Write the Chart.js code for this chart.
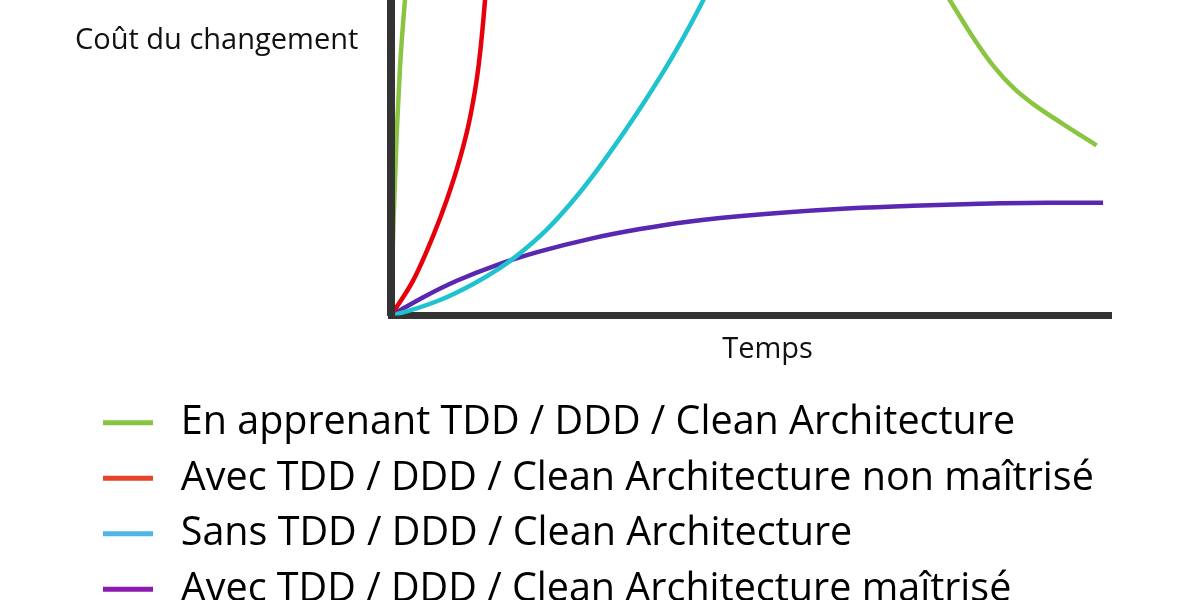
<!DOCTYPE html>
<html>
<head>
<meta charset="utf-8">
<script src="https://cdn.jsdelivr.net/npm/chart.js@4.4.1/dist/chart.umd.min.js"></script>
<style>
    html, body { margin: 0; padding: 0; background: #fff; overflow: hidden; }
    canvas { display: block; }
</style>
</head>
<body>
<canvas id="chart" width="1200" height="620"></canvas>
<script>
// axis titles and legend entries
const yTitle = "Coût du changement";
const xTitle = "Temps";
const seriesLabels = [
    "En apprenant TDD / DDD / Clean Architecture",
    "Avec TDD / DDD / Clean Architecture non maîtrisé",
    "Sans TDD / DDD / Clean Architecture",
    "Avec TDD / DDD / Clean Architecture maîtrisé",
];
const curveColors = ["#89c540", "#e6000b", "#1fc3cf", "#5a27b0"];
const legendColors = ["#86c442", "#e8432b", "#4fb4e6", "#8b1ab0"];

// curves (time 0..100, cost 0..100, the top is cut off)
const learningX = [0, 0.35, 0.79, 1.25, 1.94, 3, 10, 40, 65, 72, 77.6, 80.8, 83.8, 86.6, 89.2, 93.4, 98.0];
const learningY = [0, 30, 57.6, 78.7, 100, 125, 170, 215, 150, 121, 100, 88.3, 78.7, 71.8, 67.0, 60.6, 53.9];

const notMasteredX = [0, 3.10, 5.88, 7.74, 9.58, 10.97, 12.13, 13.06, 13.8];
const notMasteredY = [0, 11.2, 25.4, 36.6, 49.8, 62.6, 78.5, 100, 125];

const withoutX = [0, 2.64, 6.81, 11.43, 14.68, 17.46, 21.63, 25.79, 29.72, 35.04, 39.21, 43.38, 47.5];
const withoutY = [0, 1.6, 4.9, 10.0, 14.4, 18.9, 27.2, 37.8, 49.5, 67.2, 82.5, 100, 120];

const masteredX = [0, 4.49, 9.13, 14.68, 20.69, 27.64, 34.58, 41.53, 45.7, 53.75, 63.3, 72.5, 81.8, 91.1, 98.9];
const masteredY = [0, 5.8, 11.0, 16.0, 20.3, 24.3, 27.4, 29.8, 30.9, 32.5, 33.9, 34.8, 35.4, 35.7, 35.7];

const seriesX = [learningX, notMasteredX, withoutX, masteredX];
const seriesY = [learningY, notMasteredY, withoutY, masteredY];

// layout numbers
const padLeft = 87;
const legendPadding = 16;
const legendFont = 39.5;
const legendLine = 50;
const legendBox = 58; // wider box, the end stays transparent to push the text right

function toPoints(xs, ys) {
    return xs.map((x, i) => ({ x: x, y: ys[i] }));
}

// draws the two free-standing axis captions
const axisCaptions = {
    id: "axisCaptions",
    afterDraw(chart) {
        const ctx = chart.ctx;
        const area = chart.chartArea;
        ctx.save();
        ctx.fillStyle = "#111";
        ctx.font = "29px 'Open Sans'";
        ctx.textBaseline = "alphabetic";
        ctx.textAlign = "left";
        ctx.fillText(yTitle, 75, 49);
        ctx.textAlign = "center";
        ctx.fillText(xTitle, (area.left + area.right) / 2 + 16.5, area.bottom + 42);
        ctx.restore();
    },
};

const canvas = document.getElementById("chart");

new Chart(canvas, {
    type: "line",
    data: {
        datasets: seriesLabels.map((label, i) => ({
            label: label,
            data: toPoints(seriesX[i], seriesY[i]),
            borderColor: curveColors[i],
            borderWidth: 4.5,
            pointRadius: 0,
            fill: false,
            cubicInterpolationMode: "monotone",
        })),
    },
    options: {
        responsive: false,
        animation: false,
        layout: {
            padding: { left: padLeft, right: 89, top: 0, bottom: 1 },
        },
        plugins: {
            tooltip: { enabled: false },
            legend: {
                position: "bottom",
                align: "start",
                labels: {
                    color: "#111",
                    font: { family: "'Open Sans'", size: legendFont },
                    padding: legendPadding,
                    boxWidth: legendBox,
                    boxHeight: 5,
                    generateLabels(chart) {
                        const x0 = padLeft + legendPadding;
                        return seriesLabels.map((label, i) => {
                            const grad = chart.ctx.createLinearGradient(x0, 0, x0 + legendBox, 0);
                            grad.addColorStop(0, legendColors[i]);
                            grad.addColorStop(legendLine / legendBox, legendColors[i]);
                            grad.addColorStop(legendLine / legendBox, "rgba(255,255,255,0)");
                            grad.addColorStop(1, "rgba(255,255,255,0)");
                            return {
                                text: label,
                                fillStyle: grad,
                                strokeStyle: "rgba(0,0,0,0)",
                                lineWidth: 0,
                                hidden: false,
                                datasetIndex: i,
                            };
                        });
                    },
                },
            },
        },
        scales: {
            x: {
                type: "linear",
                min: 0,
                max: 100,
                grid: { display: false, drawTicks: false },
                ticks: { display: false },
                border: { display: true, width: 7, color: "#333" },
                afterFit: (scale) => { scale.height = 71.5; },
            },
            y: {
                min: 0,
                max: 100,
                grid: { display: false, drawTicks: false },
                ticks: { display: false },
                border: { display: true, width: 8, color: "#333", z: 1 },
                afterFit: (scale) => { scale.width = 304; },
            },
        },
    },
    plugins: [axisCaptions],
});
</script>
</body>
</html>
